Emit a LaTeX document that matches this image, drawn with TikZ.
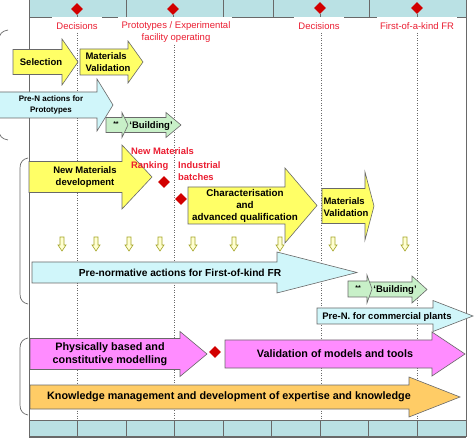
\documentclass[tikz,border=0pt]{standalone}
\usepackage{fontspec}
\setmainfont{Liberation Sans}
\usetikzlibrary{shapes.geometric}
\definecolor{ayellow}{RGB}{255,255,102}
\definecolor{acyan}{RGB}{208,246,250}
\definecolor{agreen}{RGB}{200,240,200}
\definecolor{amag}{RGB}{255,140,255}
\definecolor{aorange}{RGB}{255,204,102}
\definecolor{abar}{RGB}{186,225,228}
\definecolor{bgray}{RGB}{105,105,105}
\definecolor{dred}{RGB}{210,0,0}
\definecolor{lred}{RGB}{235,30,50}
\definecolor{sarrow}{RGB}{165,165,40}
\definecolor{sfill}{RGB}{255,255,210}
\newcommand{\barrow}[7]{%
  \draw[#1] (#2,#5-#6) -- (#3,#5-#6) -- (#3,#5-#7) -- (#4,#5) -- (#3,#5+#7) -- (#3,#5+#6) -- (#2,#5+#6) -- cycle;}
\newcommand{\downarr}[1]{%
  \draw[smallarr] (#1-2,237) -- (#1+2,237) -- (#1+2,245) -- (#1+4,245) -- (#1,251) -- (#1-4,245) -- (#1-2,245) -- cycle;}
\tikzset{
  box/.style={draw=bgray, line width=0.6pt, line join=miter},
  yarrow/.style={box, fill=ayellow},
  carrow/.style={box, fill=acyan},
  garrow/.style={box, fill=agreen},
  marrow/.style={box, fill=amag},
  oarrow/.style={box, fill=aorange},
  smallarr/.style={draw=sarrow, fill=sfill, line width=0.6pt},
  txt/.style={font=\fontsize{9.5}{12}\selectfont\bfseries, align=center, inner sep=0pt},
  bigtxt/.style={txt, font=\fontsize{10.8}{13}\selectfont\bfseries},
  ltxt/.style={txt, align=left},
  rlbl/.style={font=\fontsize{9.5}{12}\selectfont, text=lred, align=center, inner sep=0pt},
  rblbl/.style={font=\fontsize{9.4}{12}\selectfont\bfseries, text=lred, align=left, inner sep=0pt, anchor=west},
  diam/.style={diamond, fill=dred, draw=none, minimum width=12pt, minimum height=12pt, inner sep=0pt},
  dotline/.style={draw=bgray, dotted, line width=0.5pt},
  frame/.style={draw=bgray, line width=0.8pt},
  brace/.style={draw=bgray, line width=0.7pt},
}
\begin{document}
\begin{tikzpicture}[x=1pt,y=-1pt]
\clip (0,0) rectangle (474,438);
\fill[white] (0,0) rectangle (474,438);
% top bar
\fill[abar] (29,-2) rectangle (466,17);
\foreach \x in {126,223,273,369} \draw[frame] (\x,-2) -- (\x,17);
\foreach \a/\b in {29/52,102/118,232/294,344/377,457/466} \draw[frame] (\a,17) -- (\b,17);
% bottom bar
\fill[abar] (29,420) rectangle (466,437);
\foreach \i in {0,...,9} \draw[frame] ({29+\i*48.556},420) -- ({29+\i*48.556},437);
\draw[frame] (29,420) -- (466,420);
\draw[draw=bgray, line width=1.2pt] (29,437) -- (466,437);
% frame sides
\draw[frame] (29,-2) -- (29,437);
\draw[frame] (466,-2) -- (466,437);
% dotted lines
\coordinate (t1) at (77,33); \coordinate (b1) at (77,420);
\coordinate (t2) at (174,45); \coordinate (b2) at (174,420);
\coordinate (t3) at (321,33); \coordinate (b3) at (321,420);
\coordinate (t4) at (417,33); \coordinate (b4) at (417,420);
\draw[dotline] (t1) -- (b1);
\draw[dotline] (t2) -- (b2);
\draw[dotline] (t3) -- (b3);
\draw[dotline] (t4) -- (b4);
% top diamonds
\node[diam] (m1) at (77,9) {};
\node[diam] (m2) at (173,9) {};
\node[diam] (m3) at (320,8) {};
\node[diam] (m4) at (417,8) {};
\draw[bgray, line width=0.6pt] (m1.south) -- (77,17);
\draw[bgray, line width=0.6pt] (m2.south) -- (173,17);
\draw[bgray, line width=0.6pt] (m3.south) -- (320,17);
\draw[bgray, line width=0.6pt] (m4.south) -- (417,17);
% top labels
\node[rlbl] (l1) at (77,26) {Decisions};
\node[rlbl] (l2) at (176,32) {Prototypes / Experimental\\facility operating};
\node[rlbl] (l3) at (319,26) {Decisions};
\node[rlbl] (l4) at (417,26) {First-of-a-kind FR};
% left braces
\draw[brace] (8,30) .. controls (2,31) and (-1,34) .. (-1,40) -- (-1,130) .. controls (-1,136) and (2,139) .. (8,140);
\draw[brace] (28,158) .. controls (23,159) and (20,162) .. (20,168) -- (20,294) .. controls (20,300) and (23,303) .. (28,304);
\draw[brace] (28,338) .. controls (23,339) and (20,342) .. (20,348) -- (20,405) .. controls (20,411) and (23,414) .. (28,415);
% arrows row 1
\barrow{yarrow}{13}{62}{78}{62}{12.5}{23}
\node[txt] (sel) at (41,62) {Selection};
\barrow{yarrow}{80}{128}{143}{62}{13}{21}
\node[ltxt] (mv1) at (108,62) {Materials\\Validation};
\barrow{carrow}{-3}{97}{113}{105}{13}{26}
\node[txt, font=\fontsize{8}{10.5}\selectfont\bfseries] (pna) at (51,105) {Pre-N actions for\\Prototypes};
\barrow{garrow}{124}{166}{181}{125}{7.5}{12.5}
\barrow{garrow}{106}{122}{128}{125}{7.5}{12.5}
\node[txt, font=\fontsize{7}{8}\selectfont\bfseries] (st1) at (116,124) {**};
\node[txt] (bd1) at (151,126) {`Building'};
% new materials
\barrow{yarrow}{29}{122}{152}{177}{15.5}{32}
\node[txt] (nmd) at (85,177.5) {New Materials\\development};
\node[rblbl, font=\fontsize{9.4}{14}\selectfont\bfseries] (nmr) at (131,159) {New Materials\\Ranking};
\node[rblbl] (ib) at (178,171) {Industrial\\batches};
\node[diam] (d5) at (164,182) {};
\node[diam] (d6) at (181,199) {};
\barrow{yarrow}{188}{285}{317}{205.5}{18.5}{37.5}
\node[txt, font=\fontsize{9.8}{12}\selectfont\bfseries] (caq) at (245,206) {Characterisation\\and\\advanced qualification};
\barrow{yarrow}{322}{365}{374}{206}{17.5}{34}
\node[ltxt] (mv2) at (346,207) {Materials\\Validation};
% small arrows
\foreach \x in {62,96,129,160,193,234,280,333,405} {\downarr{\x}}
% pre-normative
\barrow{carrow}{32}{277}{357}{272.5}{10.5}{20.5}
\node[txt, font=\fontsize{10.2}{12}\selectfont\bfseries] (pnf) at (180,273) {Pre-normative actions for First-of-kind FR};
\barrow{garrow}{368}{412}{427}{289.5}{7.5}{13.5}
\barrow{garrow}{348}{367}{372}{289}{8}{14}
\node[txt, font=\fontsize{7}{8}\selectfont\bfseries] (st2) at (358,288) {**};
\node[txt] (bd2) at (395,290) {`Building'};
\barrow{carrow}{317}{433}{473}{316}{8}{15.5}
\node[txt] (pnc) at (387,317) {Pre-N. for commercial plants};
% modelling
\barrow{marrow}{30}{180}{207}{354}{15.5}{22.5}
\node[bigtxt] (pbm) at (110,354.5) {Physically based and\\constitutive modelling};
\node[diam] (d7) at (215,352) {};
\barrow{marrow}{225}{432}{465}{354}{14}{22}
\node[bigtxt] (vmt) at (335,354) {Validation of models and tools};
\barrow{oarrow}{30}{409}{460}{397}{12}{20}
\node[bigtxt] (kmd) at (229,397) {Knowledge management and development of expertise and knowledge};
\end{tikzpicture}
\end{document}
